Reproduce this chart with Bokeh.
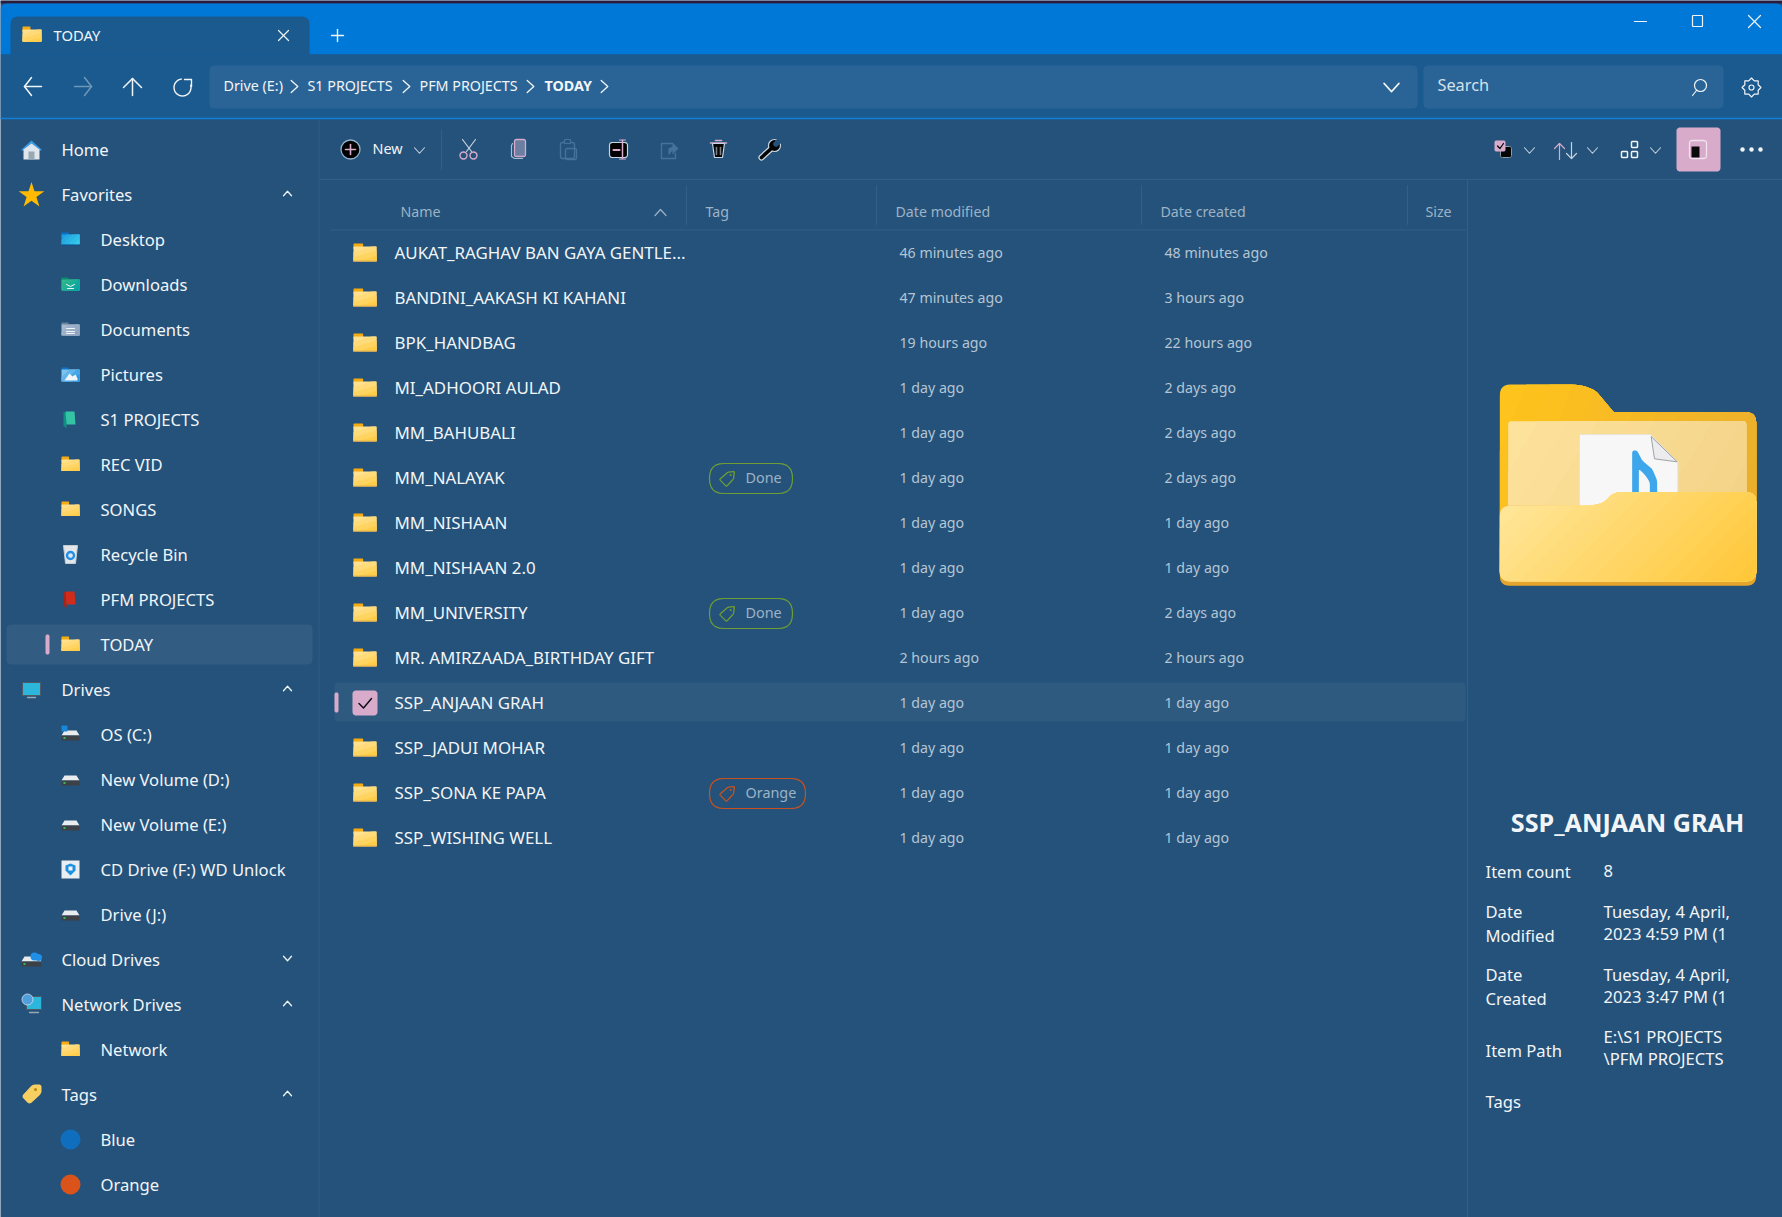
"""Fenetre d'explorateur de fichiers (Files, dossier TODAY) redessinee avec Bokeh."""

import numpy as np

from bokeh.core.properties import value
from bokeh.embed import file_html
from bokeh.models import Range1d
from bokeh.plotting import figure
from bokeh.resources import INLINE

SIDEBAR_LABELS = [
    "Home", "Favorites", "Desktop", "Downloads", "Documents", "Pictures", "S1 PROJECTS",
    "REC VID", "SONGS", "Recycle Bin", "PFM PROJECTS", "TODAY", "Drives", "OS (C:)",
    "New Volume (D:)", "New Volume (E:)", "CD Drive (F:) WD Unlock", "Drive (J:)", "Cloud Drives",
    "Network Drives", "Network", "Tags", "Blue", "Orange",
]
SIDEBAR_LEVELS = [0, 0, 1, 1, 1, 1, 1, 1, 1, 1, 1, 1, 0, 1, 1, 1, 1, 1, 0, 0, 1, 0, 1, 1]
SIDEBAR_CHEVRONS = {"Favorites": "up", "Drives": "up", "Cloud Drives": "down", "Network Drives": "up", "Tags": "up"}

FILE_NAMES = [
    "AUKAT_RAGHAV BAN GAYA GENTLE...", "BANDINI_AAKASH KI KAHANI", "BPK_HANDBAG", "MI_ADHOORI AULAD",
    "MM_BAHUBALI", "MM_NALAYAK", "MM_NISHAAN", "MM_NISHAAN 2.0", "MM_UNIVERSITY",
    "MR. AMIRZAADA_BIRTHDAY GIFT", "SSP_ANJAAN GRAH", "SSP_JADUI MOHAR", "SSP_SONA KE PAPA", "SSP_WISHING WELL",
]
DATE_MODIFIED = [
    "46 minutes ago", "47 minutes ago", "19 hours ago", "1 day ago", "1 day ago", "1 day ago", "1 day ago",
    "1 day ago", "1 day ago", "2 hours ago", "1 day ago", "1 day ago", "1 day ago", "1 day ago",
]
DATE_CREATED = [
    "48 minutes ago", "3 hours ago", "22 hours ago", "2 days ago", "2 days ago", "2 days ago", "1 day ago",
    "1 day ago", "2 days ago", "2 hours ago", "1 day ago", "1 day ago", "1 day ago", "1 day ago",
]
FILE_TAGS = [None, None, None, None, None, "Done", None, None, "Done", None, None, None, "Orange", None]
SELECTED_FILE = "SSP_ANJAAN GRAH"

COLUMN_TITLES = ["Name", "Tag", "Date modified", "Date created", "Size"]
COLUMN_TEXT_X = [400, 705, 895, 1160, 1425]
COLUMN_SEPARATORS = [686, 876, 1141, 1407]
BREADCRUMBS = ["Drive (E:)", "S1 PROJECTS", "PFM PROJECTS", "TODAY"]
BREADCRUMB_X = [223, 307, 419, 544]
DETAIL_LABELS = ["Item count", "Date", "Modified", "Date", "Created", "Item Path", "Tags"]
DETAIL_LABEL_Y = [872, 912, 936, 975, 999, 1051, 1102]
DETAIL_VALUES = ["8", "Tuesday, 4 April,", "2023 4:59 PM (1", "Tuesday, 4 April,", "2023 3:47 PM (1", "E:\\S1 PROJECTS", "\\PFM PROJECTS"]
DETAIL_VALUE_Y = [871, 912, 934, 975, 997, 1037, 1059]

BG = "#24527a"
NAV = "#1a5a8f"
BOX = "#2a6496"
TITLE = "#0078d7"
LINE = "#335f85"
PINK = "#d8abcb"
WHITE = "#f2f5f8"
MUTED = "#b5c5d4"
HEAD = "#9db3c6"
DIM = "#44739a"
FONT = "Noto Sans"
TAG_COLORS = {"Done": "#6f9e35", "Orange": "#c8521f"}
TAG_WIDTHS = {"Done": 83, "Orange": 96}

p = figure(
    width=1782,
    height=1217,
    x_range=Range1d(0, 1782),
    y_range=Range1d(1217, 0),
    x_axis_location=None,
    y_axis_location=None,
    toolbar_location=None,
    output_backend="svg",
    background_fill_color=BG,
    border_fill_color=BG,
    outline_line_color=None,
    min_border=0,
    tools="",
)
p.grid.visible = False


def rounded(pts, r):
    """Polygone aux sommets arrondis (r commun ou un r par sommet)."""
    pts = np.array(pts, dtype=float)
    radii = r if isinstance(r, (list, tuple)) else [r] * len(pts)
    out = []
    for i, v in enumerate(pts):
        a, b = pts[i - 1], pts[(i + 1) % len(pts)]
        da, db = np.linalg.norm(a - v), np.linalg.norm(b - v)
        ra = min(radii[i], da / 2)
        rb = min(radii[i], db / 2)
        p0, p2 = v + (a - v) / da * ra, v + (b - v) / db * rb
        for t in np.linspace(0, 1, 7):
            out.append((1 - t) ** 2 * p0 + 2 * t * (1 - t) * v + t ** 2 * p2)
    out = np.array(out)
    return out[:, 0], out[:, 1]


def rrect(x0, y0, x1, y1, r=0):
    if r == 0:
        return [x0, x1, x1, x0], [y0, y0, y1, y1]
    return rounded([(x0, y0), (x1, y0), (x1, y1), (x0, y1)], r)


def fill(xs, ys, color, alpha=1.0, edge=None, width=1.0):
    p.patch(list(xs), list(ys), fill_color=color, fill_alpha=alpha, line_color=edge, line_width=width)


def box(x0, y0, x1, y1, color, r=0, edge=None, width=1.0):
    xs, ys = rrect(x0, y0, x1, y1, r)
    fill(xs, ys, color, edge=edge, width=width)


def outline(x0, y0, x1, y1, color, r=0, width=1.0):
    xs, ys = rrect(x0, y0, x1, y1, r)
    p.patch(list(xs), list(ys), fill_color=None, line_color=color, line_width=width)


def stroke(xs, ys, color, width=1.0):
    p.line(xs, ys, line_color=color, line_width=width, line_join="round", line_cap="round")


def dot(x, y, size, color, edge=None, width=1.0):
    p.scatter([x], [y], marker="circle", size=size, fill_color=color, line_color=edge, line_width=width)


def label(xs, ys, texts, color=WHITE, size=16.6, bold=False, align="left"):
    # Noto Sans descend un peu plus que la police d'origine: on remonte d'un pixel
    p.text(
        x=xs, y=[v - 1 for v in ys], text=texts, text_color=color, text_font=value(FONT),
        text_font_size=f"{size}px", text_font_style="bold" if bold else "normal",
        text_align=align, text_baseline="middle",
    )


def mix(c0, c1, t):
    a = [int(c0[i:i + 2], 16) for i in (1, 3, 5)]
    b = [int(c1[i:i + 2], 16) for i in (1, 3, 5)]
    return "#%02x%02x%02x" % tuple(round(u + (v - u) * t) for u, v in zip(a, b))


def clip_half(pts, d, level):
    """Garde la partie du polygone ou la projection sur d depasse level."""
    out = []
    for i, q in enumerate(pts):
        r = pts[(i + 1) % len(pts)]
        sq, sr = q @ d - level, r @ d - level
        if sq >= 0:
            out.append(q)
        if sq * sr < 0:
            out.append(q + (r - q) * sq / (sq - sr))
    return np.array(out)


def gradient(xs, ys, c0, c1, n=14, direction=(1.0, 1.0)):
    """Degrade par couches superposees, pour ne pas laisser de joints en SVG."""
    pts = np.column_stack([xs, ys]).astype(float)
    d = np.array(direction, dtype=float)
    proj = pts @ d
    lo, hi = proj.min(), proj.max()
    fill(pts[:, 0], pts[:, 1], c0)
    for k in range(1, n):
        part = clip_half(pts, d, lo + (hi - lo) * k / n)
        if len(part) > 2:
            fill(part[:, 0], part[:, 1], mix(c0, c1, k / (n - 1)))


def chevron(x, y, s, direction, color=WHITE, width=1.3):
    dy = s * 0.55 if direction == "down" else -s * 0.55
    stroke([x - s, x, x + s], [y - dy, y + dy, y - dy], color, width)


def side_chevron(x, y, s, color=WHITE, width=1.3):
    stroke([x - s * 0.55, x + s * 0.55, x - s * 0.55], [y - s, y, y + s], color, width)


def small_folder(x0, cy, w=18, tab="#f5ab12", c0="#ffe08c", c1="#ffce4d", edge=None):
    h = w * 0.64
    top = cy - 7
    box(x0, top - 3, x0 + w * 0.42, top + 3, tab, r=1)
    xs, ys = rrect(x0, top, x0 + w, top + h, 0.8)
    gradient(xs, ys, c0, c1, n=4, direction=(0.3, 1.0))
    if edge:
        stroke([x0, x0 + w], [top + h, top + h], edge, 1)


def hdd(x0, cy, w=18):
    fill([x0 + 3, x0 + w - 3, x0 + w, x0], [cy - 6, cy - 6, cy - 1, cy - 1], "#e8ecef")
    box(x0, cy - 1, x0 + w, cy + 4, "#3c4148")
    stroke([x0 + 2.5, x0 + 3.5], [cy + 1.5, cy + 1.5], "#3ddc55", 1.5)


def tag_icon(cx, cy, color):
    s = 7.0
    xs, ys = rounded([(cx + s, cy - s), (cx + s * 0.85, cy + 0.4), (cx - 1, cy + s + 1), (cx - s - 1, cy + 1), (cx + 0.4, cy - s * 0.9)], 1.2)
    p.patch(list(xs), list(ys), fill_color=None, line_color=color, line_width=1.3)
    dot(cx + 3.2, cy - 3.4, 2, color)


# ---- fond de fenetre
box(0, 0, 1782, 3, "#2a1a3c")
xs, ys = rounded([(0, 54), (0, 3), (1782, 3), (1782, 54)], [0, 7, 7, 0])
fill(xs, ys, TITLE)
box(0, 54, 1782, 118, NAV)
stroke([0, 1782], [118, 118], "#1480d8", 1.4)
stroke([318.5, 318.5], [119, 1217], "#2a5a82", 1)
stroke([319, 1782], [179, 179], LINE, 1)
stroke([1467, 1467], [179, 1217], LINE, 1)

# ---- barre d'onglets
xs, ys = rounded([(10, 54), (10, 16), (309, 16), (309, 54)], [0, 8, 8, 0])
fill(xs, ys, NAV)
small_folder(22, 36, w=19)
label([53], [35], ["TODAY"], size=14.8)
stroke([278, 288], [30, 40], WHITE, 1.2)
stroke([278, 288], [40, 30], WHITE, 1.2)
stroke([331, 343], [35, 35], WHITE, 1.4)
stroke([337, 337], [29, 41], WHITE, 1.4)
stroke([1634, 1646], [21, 21], WHITE, 1.2)
outline(1692, 15, 1702, 26, WHITE, r=1, width=1.2)
stroke([1748, 1760], [15, 27], WHITE, 1.2)
stroke([1748, 1760], [27, 15], WHITE, 1.2)

# ---- navigation
stroke([41, 24], [86, 86], WHITE, 1.5)
stroke([31, 24, 31], [77, 86, 95], WHITE, 1.5)
stroke([74, 91], [86, 86], "#6f97b8", 1.5)
stroke([84, 91, 84], [77, 86, 95], "#6f97b8", 1.5)
stroke([132, 132], [95, 78], WHITE, 1.5)
stroke([123, 132, 141], [87, 78, 87], WHITE, 1.5)
angles = np.radians(np.linspace(-15, 262, 30))
stroke(list(182 + 8.5 * np.cos(angles)), list(87 + 8.5 * np.sin(angles)), WHITE, 1.4)
stroke([184, 191, 191], [79, 79, 86], WHITE, 1.4)

box(209, 65, 1417, 108, BOX, r=5)
label(BREADCRUMB_X[:3], [86] * 3, BREADCRUMBS[:3], size=14.3)
label(BREADCRUMB_X[3:], [86], BREADCRUMBS[3:], size=14.3, bold=True)
for cx in [294, 406, 530, 604]:
    side_chevron(cx, 86, 6)
chevron(1391, 87, 7.5, "down", WHITE, 1.5)
box(1423, 65, 1723, 108, BOX, r=5)
label([1437], [85], ["Search"], color="#d5e0ea", size=16.3)
dot(1700, 85, 12, None, edge=WHITE, width=1.2)
stroke([1696, 1692], [90, 95], WHITE, 1.2)
dot(1751, 87, 5, None, edge=WHITE, width=1.2)
gear = np.radians(np.arange(0, 360, 22.5))
gear_r = np.where(np.arange(16) % 2 == 0, 9.5, 7.2)
fill(1751 + gear_r * np.cos(gear), 87 + gear_r * np.sin(gear), BOX, alpha=0.0, edge=WHITE, width=1.2)

# ---- barre d'outils
dot(350, 149, 19, "#000000", edge="#8fb0c9", width=1.3)
stroke([345, 355], [149, 149], PINK, 1.6)
stroke([350, 350], [144, 154], PINK, 1.6)
label([372], [149], ["New"], size=14.4)
chevron(419, 150, 5, "down", "#c5d3df", 1.1)
stroke([441, 441], [129, 169], LINE, 1)
stroke([462, 471], [139, 151], "#c6d3df", 1.2)
stroke([475, 466], [139, 151], "#c6d3df", 1.2)
dot(463, 155, 7, None, edge=PINK, width=1.4)
dot(473, 155, 7, None, edge=PINK, width=1.4)
stroke([512, 511, 511, 514, 522], [143, 145, 156, 158, 158], "#a5bdd0", 1.2)
box(514, 139, 525, 156, "#6c7fa3", r=2, edge=PINK, width=1.3)
outline(560, 142, 574, 158, DIM, r=2, width=1.4)
outline(565, 148, 576, 159, DIM, r=2, width=1.4)
box(564, 139, 570, 143, BG, r=1, edge=DIM, width=1.2)
box(609, 142, 627, 157, "#000000", r=3, edge="#c7d5e0", width=1.2)
stroke([613, 619], [149.5, 149.5], PINK, 2.2)
stroke([622, 622], [140, 158], PINK, 1.5)
stroke([619, 625], [139.5, 139.5], PINK, 1.2)
stroke([619, 625], [158.5, 158.5], PINK, 1.2)
stroke([672, 661, 661, 675, 675], [143, 143, 158, 158, 153], DIM, 1.4)
fill([668, 668, 672, 672, 678, 672, 672], [155, 148, 146, 142, 148, 154, 150], DIM)
stroke([710, 726], [142.5, 142.5], PINK, 1.6)
stroke([715, 721], [140, 140], PINK, 1.6)
fill([712, 724, 722, 714], [143, 143, 157, 157], "#050505", edge="#c7d5e0", width=1.2)
stroke([716, 716], [147, 154], "#7a8288", 1.6)
stroke([720, 720], [147, 154], "#7a8288", 1.6)
stroke([761, 773], [157, 146], "#c7d5e0", 6.2)
dot(774, 145, 12, "#050505", edge="#c7d5e0", width=1.2)
stroke([761, 773], [157, 146], "#050505", 3.6)
stroke([775.5, 782], [143.5, 137.5], BG, 5.5)

box(1500, 146, 1511, 157, "#050505", r=2, edge="#8d9aa5", width=1)
box(1494, 140, 1505, 151, PINK, r=2)
stroke([1497, 1499.5, 1503], [145.5, 148, 143], "#050505", 1.2)
chevron(1529, 150, 5, "down", "#c5d3df", 1.1)
stroke([1559, 1559], [143, 159], PINK, 1.2)
stroke([1554, 1559, 1564], [148, 143, 148], PINK, 1.2)
stroke([1571, 1571], [142, 158], "#c5d3df", 1.2)
stroke([1566, 1571, 1576], [153, 158, 153], "#c5d3df", 1.2)
chevron(1592, 150, 5, "down", "#c5d3df", 1.1)
outline(1631, 141, 1637, 147, WHITE, r=1, width=1.5)
outline(1621, 151, 1627, 157, WHITE, r=1, width=1.5)
outline(1631, 151, 1637, 157, WHITE, r=1, width=1.5)
chevron(1655, 150, 5, "down", "#c5d3df", 1.1)
box(1676, 127, 1720, 171, PINK, r=4)
outline(1689, 140, 1706, 158, "#f1e4ee", r=3, width=1.3)
box(1691, 146, 1699, 157, "#0a0a0a")
for cx in [1742, 1751, 1760]:
    dot(cx, 149, 4.5, WHITE)

# ---- panneau lateral
for i, name in enumerate(SIDEBAR_LABELS):
    y = 150 + 45 * i
    if name == "TODAY":
        box(6, y - 21, 312, y + 19, "#325c82", r=5)
        box(45, y - 11, 49, y + 9, PINK, r=2)
    label([61 if SIDEBAR_LEVELS[i] == 0 else 100], [y], [name])
    if name in SIDEBAR_CHEVRONS:
        chevron(287, y - 2, 4, SIDEBAR_CHEVRONS[name], WHITE, 1.3)

fill([21, 31, 41, 41, 21], [149, 140, 149, 150, 150], "#3d9be3")
fill([23, 31, 39, 39, 23], [149, 143, 149, 159, 159], "#dfe6ec")
box(28, 151, 34, 159, "#9aa8b4")
p.scatter([31], [195], marker="star", size=27, fill_color="#ffb900", line_color=None)
# dossiers de la bibliotheque
box(61, 232, 68, 236, "#0a6fd0")
xs, ys = rrect(61, 234, 79, 244, 0.6)
gradient(xs, ys, "#1f9fe0", "#36c9ea", n=5)
stroke([62, 79], [244.5, 244.5], "#0b4f92", 1)
box(61, 277, 68, 281, "#0b8a6c")
xs, ys = rrect(61, 279, 79, 290, 0.6)
gradient(xs, ys, "#2fb98a", "#0aa3a3", n=5)
stroke([66, 70, 74], [284, 286, 284], WHITE, 1)
stroke([67, 73], [288, 288], WHITE, 1)
box(61, 322, 68, 326, "#6b8299")
xs, ys = rrect(61, 324, 79, 335, 0.6)
gradient(xs, ys, "#a7b9cf", "#8fa5c0", n=4)
for ly in [328, 331, 333]:
    stroke([66, 74], [ly, ly], WHITE, 1)
box(61, 367, 68, 371, "#1074c8")
xs, ys = rrect(61, 369, 79, 381, 0.6)
gradient(xs, ys, "#7cc4ef", "#2a96e0", n=4)
fill([64, 69, 72, 75, 77, 77, 64], [380, 373, 376, 374, 378, 380, 380], WHITE)
# drapeaux S1 et PFM
fill([63, 66, 66, 63], [411, 413, 428, 425], "#0f8f82")
fill([65, 74, 75, 66], [411, 411, 424, 424], "#35c3a6")
small_folder(61, 466)
small_folder(61, 511)
fill([63, 77, 75, 65], [545, 545, 563, 563], "#e3e7ea", edge="#c4ccd2")
dot(70, 555, 7, None, edge="#1f8fe8", width=2.4)
fill([63, 66, 66, 63], [591, 593, 608, 605], "#a82418")
fill([65, 74, 75, 66], [591, 591, 604, 604], "#cf2c1c")
small_folder(61, 646)
# disques
box(22, 682, 40, 695, "#2cb6dc", edge="#4d5a66", width=1)
stroke([27, 35], [697, 697], "#9aa8b4", 1.4)
hdd(61, 736)
box(61, 725, 67, 731, "#1a86d8")
hdd(61, 781)
hdd(61, 826)
box(61, 860, 79, 878, "#e9eef2")
fill([70, 75, 75, 70, 65, 65], [863, 865, 870, 875, 870, 865], "#1f8fe0")
box(68, 866, 72, 870, WHITE)
hdd(61, 916)
hdd(21, 962, w=20)
dot(34, 956, 8, "#1f8fe8")
dot(38, 957, 7, "#1f8fe8")
box(26, 996, 41, 1009, "#2cb6dc", edge="#4d5a66", width=1)
stroke([29, 38], [1012, 1012], "#9aa8b4", 1.4)
dot(27, 999, 11, "#4f9fdc", edge="#cfe3f2", width=0.8)
small_folder(61, 1051)
xs, ys = rounded([(41, 1084), (41, 1093), (29, 1104), (21, 1096), (32, 1084)], 3)
fill(xs, ys, "#f7cf63")
dot(35, 1089, 3, "#b8860b")
dot(70, 1139, 20, "#0f6fbe")
dot(70, 1184, 20, "#d9531a")

# ---- liste de fichiers
label(COLUMN_TEXT_X, [212] * 5, COLUMN_TITLES, color=HEAD, size=14.2)
chevron(660, 212, 5.5, "up", HEAD, 1.2)
stroke([330, 1465], [229.5, 229.5], LINE, 1)
for sep in COLUMN_SEPARATORS:
    stroke([sep, sep], [185, 224], LINE, 1)

for i, name in enumerate(FILE_NAMES):
    y = 253 + 45 * i
    if name == SELECTED_FILE:
        box(334, y - 21, 1465, y + 18, "#2e5a80", r=4)
        box(334, y - 11, 338, y + 9, PINK, r=2)
        box(352, y - 13, 377, y + 12, PINK, r=4)
        stroke([358.5, 363, 371], [y, y + 4.5, y - 5], "#101018", 1.5)
    else:
        small_folder(353, y, w=23, c0="#ffe291", c1="#ffcd48", edge="#caa35a")
    label([394], [y], [name], size=16.9)
    label([899], [y], [DATE_MODIFIED[i]], color=MUTED, size=14.2)
    label([1164], [y], [DATE_CREATED[i]], color=MUTED, size=14.2)
    tag = FILE_TAGS[i]
    if tag:
        color = TAG_COLORS[tag]
        outline(709, y - 15, 709 + TAG_WIDTHS[tag], y + 15, color, r=14.5, width=1.2)
        tag_icon(727, y, color)
        label([745], [y - 0.5], [tag], color=HEAD, size=14.4)


# ---- volet de details: grande icone de dossier
def fx(v):
    return 1460 + np.array(v, dtype=float) / 3


def fy(v):
    return 360 + np.array(v, dtype=float) / 3


back = [(118, 640), (118, 72), (360, 72), (405, 90), (460, 155), (887, 155), (887, 640)]
xs, ys = rounded(back, [0, 32, 40, 12, 2, 32, 0])
gradient(fx(xs), fy(ys), "#ffc31d", "#eaad2d", n=14, direction=(1.0, 0.4))
xs, ys = rrect(143, 182, 857, 460, 10)
gradient(fx(xs), fy(ys), "#fde29c", "#f3d388", n=10, direction=(1.0, 0.6))
fill(fx([357, 570, 652, 652, 357]), fy([222, 222, 305, 460, 460]), "#f7f7f8", edge="#e9e3d2", width=1)
fill(fx([572, 582, 650]), fy([228, 295, 304]), "#ececee", edge="#9da2a6", width=1)
note_x = [515, 530, 545, 575, 590, 590, 568, 568, 555, 535, 535, 515]
note_y = [270, 270, 300, 325, 360, 420, 420, 365, 345, 325, 420, 420]
xs, ys = rounded(list(zip(note_x, note_y)), 8)
fill(fx(xs), fy(ys), "#3ea6ea")
front = [(118, 676), (118, 436), (385, 436), (430, 428), (460, 395), (887, 395), (887, 676)]
xs, ys = rounded(front, [30, 30, 30, 20, 20, 30, 30])
fill(fx(xs), fy(ys), "#e5a52c")
front[0], front[-1] = (118, 662), (887, 662)
xs, ys = rounded(front, [30, 30, 30, 20, 20, 30, 30])
gradient(fx(xs), fy(ys), "#ffe596", "#ffc83a", n=18, direction=(1.0, 1.0))

label([1627], [822], ["SSP_ANJAAN GRAH"], size=25.2, bold=True, align="center")
label([1485] * len(DETAIL_LABELS), DETAIL_LABEL_Y, DETAIL_LABELS, size=16.6)
label([1603] * len(DETAIL_VALUES), DETAIL_VALUE_Y, DETAIL_VALUES, size=16.6)

open("out.html", "w").write(file_html(p, INLINE))
